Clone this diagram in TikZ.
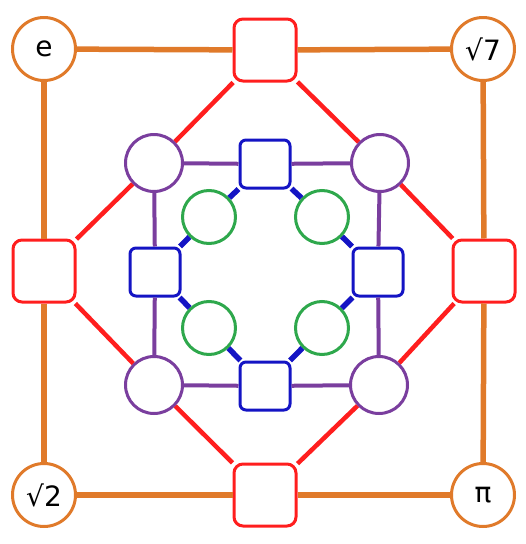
\documentclass[tikz,border=0pt]{standalone}
\usepackage{fontspec}
\setmainfont{DejaVu Sans}
\definecolor{cOr}{HTML}{E07A2A}
\definecolor{cRd}{HTML}{FF1E1E}
\definecolor{cPu}{HTML}{7A3E9E}
\definecolor{cBl}{HTML}{1414C4}
\definecolor{cGr}{HTML}{2EA84C}
\tikzset{
  orn/.style={circle,draw=cOr,line width=3pt,fill=white,minimum size=63pt,inner sep=0pt,font=\fontsize{28}{28}\selectfont},
  rdn/.style={rectangle,rounded corners=9pt,draw=cRd,line width=3pt,fill=white,minimum size=62pt,inner sep=0pt},
  pun/.style={circle,draw=cPu,line width=3pt,fill=white,minimum size=57pt,inner sep=0pt},
  bln/.style={rectangle,rounded corners=6pt,draw=cBl,line width=3pt,fill=white,minimum width=50pt,minimum height=48pt,inner sep=0pt},
  grn/.style={circle,draw=cGr,line width=3pt,fill=white,minimum size=53pt,inner sep=0pt},
  orl/.style={draw=cOr,line width=5.5pt},
  rdl/.style={draw=cRd,line width=4.5pt},
  pul/.style={draw=cPu,line width=4pt},
  bll/.style={draw=cBl,line width=5.5pt}
}
\begin{document}
\begin{tikzpicture}[x=1pt,y=-1pt]
\useasboundingbox (0,0) rectangle (526,544);
% nodes
\node[orn] (e) at (44,49) {e};
\node[orn] (s7) at (483,49) {√7};
\node[orn] (s2) at (44,495) {√2};
\node[orn] (pi) at (483,495) {π};
\node[rdn] (rt) at (265,50) {};
\node[rdn] (rl) at (44,271) {};
\node[rdn] (rr) at (484,271) {};
\node[rdn] (rb) at (265,495) {};
\node[pun] (ptl) at (154,163) {};
\node[pun] (ptr) at (380,163) {};
\node[pun] (pbl) at (154,385) {};
\node[pun] (pbr) at (379,385) {};
\node[bln] (bt) at (265,164) {};
\node[bln] (bl) at (155,272) {};
\node[bln] (br) at (378,272) {};
\node[bln] (bb) at (265,386) {};
\node[grn] (gtl) at (209,217) {};
\node[grn] (gtr) at (322,217) {};
\node[grn] (gbl) at (209,328) {};
\node[grn] (gbr) at (322,328) {};
% connectors
\draw[orl] (e) -- (rt); \draw[orl] (rt) -- (s7);
\draw[orl] (e) -- (rl); \draw[orl] (rl) -- (s2);
\draw[orl] (s7) -- (rr); \draw[orl] (rr) -- (pi);
\draw[orl] (s2) -- (rb); \draw[orl] (rb) -- (pi);
\draw[rdl] (rt) -- (ptl); \draw[rdl] (rt) -- (ptr);
\draw[rdl] (rl) -- (ptl); \draw[rdl] (rl) -- (pbl);
\draw[rdl] (rr) -- (ptr); \draw[rdl] (rr) -- (pbr);
\draw[rdl] (rb) -- (pbl); \draw[rdl] (rb) -- (pbr);
\draw[pul] (ptl) -- (bt); \draw[pul] (bt) -- (ptr);
\draw[pul] (ptl) -- (bl); \draw[pul] (bl) -- (pbl);
\draw[pul] (ptr) -- (br); \draw[pul] (br) -- (pbr);
\draw[pul] (pbl) -- (bb); \draw[pul] (bb) -- (pbr);
\draw[bll] (bt) -- (gtl); \draw[bll] (bt) -- (gtr);
\draw[bll] (bl) -- (gtl); \draw[bll] (bl) -- (gbl);
\draw[bll] (br) -- (gtr); \draw[bll] (br) -- (gbr);
\draw[bll] (bb) -- (gbl); \draw[bll] (bb) -- (gbr);
\end{tikzpicture}
\end{document}
